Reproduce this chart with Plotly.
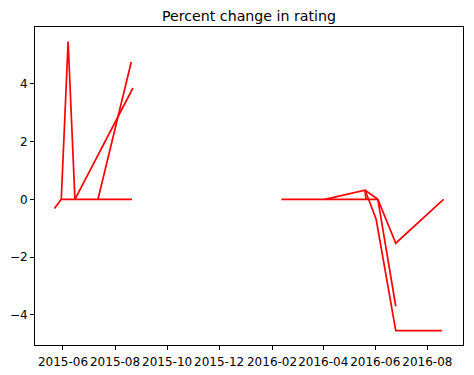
import pandas as pd
import plotly.graph_objects as go

# Line segments in drawing order (None = break between pieces)
dates = [
    "2015-05-22", "2015-05-30", "2015-06-07", "2015-06-15", "2015-08-22", None,
    "2015-05-30", "2015-08-21", None,
    "2015-07-12", "2015-08-20", None,
    "2016-02-12", "2016-06-04", None,
    "2016-04-03", "2016-05-20", "2016-06-04", None,
    "2016-05-20", "2016-05-21", None,
    "2016-05-20", "2016-06-02", "2016-06-25", "2016-08-18", None,
    "2016-06-04", "2016-06-25", None,
    "2016-06-04", "2016-06-25", "2016-08-20",
]
pct_change = [
    -0.32, 0.0, 5.46, 0.0, 3.85, None,
    0.0, 0.0, None,
    0.0, 4.75, None,
    0.0, 0.0, None,
    0.0, 0.32, 0.0, None,
    0.32, 0.0, None,
    0.32, -0.69, -4.54, -4.54, None,
    0.0, -3.7, None,
    0.0, -1.52, 0.0,
]

x_ticks = ["2015-06-01", "2015-08-01", "2015-10-01", "2015-12-01",
           "2016-02-01", "2016-04-01", "2016-06-01", "2016-08-01"]
x_tick_labels = ["2015-06", "2015-08", "2015-10", "2015-12",
                 "2016-02", "2016-04", "2016-06", "2016-08"]
y_ticks = [-4, -2, 0, 2, 4]

# matplotlib-like 5% margins
dts = pd.to_datetime([d for d in dates if d is not None])
dmin, dmax = dts.min(), dts.max()
dpad = (dmax - dmin) * 0.05
vals = [v for v in pct_change if v is not None]
vmin, vmax = min(vals), max(vals)
vpad = (vmax - vmin) * 0.05

fig = go.Figure(
    go.Scatter(
        x=dates, y=pct_change, mode="lines",
        line=dict(color="#ff0000", width=1.7),
        connectgaps=False, hoverinfo="skip",
    )
)

axis_common = dict(
    showline=True, linecolor="black", linewidth=1, mirror=True,
    ticks="outside", ticklen=4, tickwidth=1, tickcolor="black",
    showgrid=False, zeroline=False, automargin=False,
    tickfont=dict(family="DejaVu Sans", size=12, color="black"),
)

fig.update_layout(
    width=474, height=375,
    margin=dict(l=35, r=11, t=27, b=30),
    paper_bgcolor="white", plot_bgcolor="white",
    showlegend=False,
    title=dict(
        text="Percent change in rating",
        font=dict(family="DejaVu Sans", size=14.2, color="black"),
        x=0.5, xref="paper", xanchor="center",
        y=1 - 16 / 375, yref="container", yanchor="middle",
    ),
    xaxis=dict(
        range=[dmin - dpad, dmax + dpad],
        tickvals=x_ticks, ticktext=x_tick_labels, tickangle=0,
        ticklabelstandoff=2,
        **axis_common,
    ),
    yaxis=dict(
        range=[vmin - vpad, vmax + vpad],
        tickvals=y_ticks,
        **axis_common,
    ),
)

fig.write_html(
    "out.html",
    config={"displayModeBar": False, "staticPlot": True},
    post_script="document.body.style.margin='0';document.body.style.padding='0';",
)
